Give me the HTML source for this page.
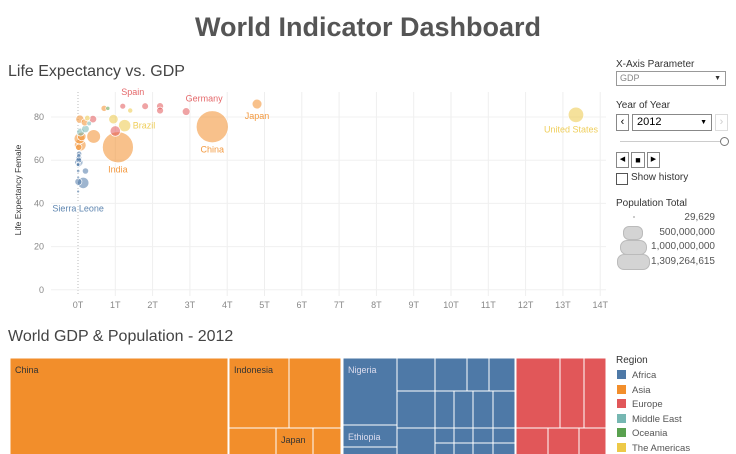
<!DOCTYPE html>
<html><head><meta charset="utf-8"><style>
body{margin:0;width:736px;height:454px;overflow:hidden;background:#fff;font-family:"Liberation Sans",sans-serif;position:relative}
.t{position:absolute;white-space:nowrap}
</style></head><body>
<div class="t" style="left:0;width:736px;text-align:center;top:12px;font-size:27px;font-weight:bold;color:#555">World Indicator Dashboard</div>
<div class="t" style="left:8px;top:63px;font-size:16px;color:#444">Life Expectancy vs. GDP</div>
<div class="t" style="left:8px;top:328px;font-size:16px;color:#444">World GDP &amp; Population - 2012</div>
<svg id="sc" width="736" height="454" style="position:absolute;left:0;top:0"></svg>

<div class="t" style="left:616px;top:59px;font-size:10px;color:#333">X-Axis Parameter</div>
<div class="t" style="left:616px;top:71px;width:110px;border:1px solid #999;font-size:9px;color:#888;padding-left:3px;box-sizing:border-box;height:15px;line-height:13px">GDP<span style="position:absolute;right:4px;color:#333;font-size:7px">▼</span></div>
<div class="t" style="left:616px;top:100px;font-size:10px;color:#333">Year of Year</div>
<div class="t" style="left:616px;top:114px;width:13px;height:17px;border:1px solid #888;box-sizing:border-box;font-size:11px;text-align:center;line-height:15px">‹</div>
<div class="t" style="left:632px;top:114px;width:80px;height:17px;border:1px solid #888;box-sizing:border-box;font-size:11px;padding-left:4px;line-height:15px">2012<span style="position:absolute;right:4px;font-size:7px">▼</span></div>
<div class="t" style="left:715px;top:114px;width:13px;height:17px;border:1px solid #ddd;box-sizing:border-box;font-size:11px;text-align:center;line-height:15px;color:#ccc">›</div>
<div class="t" style="left:620px;top:141px;width:102px;height:1px;background:#ccc"></div>
<div class="t" style="left:720px;top:137px;width:7px;height:7px;border:1px solid #777;border-radius:50%;background:#fff"></div>
<div class="t" style="left:616px;top:152px;width:13px;height:16px;border:1px solid #888;box-sizing:border-box;font-size:7px;text-align:center;line-height:14px">◀</div>
<div class="t" style="left:631px;top:152px;width:14px;height:16px;border:1px solid #888;box-sizing:border-box;font-size:9px;text-align:center;line-height:14px">■</div>
<div class="t" style="left:647px;top:152px;width:13px;height:16px;border:1px solid #888;box-sizing:border-box;font-size:7px;text-align:center;line-height:14px">▶</div>
<div class="t" style="left:616px;top:173px;width:10px;height:10px;border:1px solid #555"></div>
<div class="t" style="left:631px;top:172px;font-size:10px;color:#333">Show history</div>
<div class="t" style="left:616px;top:198px;font-size:10px;color:#333">Population Total</div>
<div>
<div class="t" style="left:633px;top:216px;width:2px;height:2px;background:#bbb;border-radius:50%"></div>
<div class="t" style="left:715px;top:212px;font-size:10px;color:#555;transform:translateX(-100%)">29,629</div>
<div class="t" style="left:623px;top:226px;width:18px;height:12px;background:#d4d4d4;border:1px solid #bbb;border-radius:6px"></div>
<div class="t" style="left:715px;top:227px;font-size:10px;color:#555;transform:translateX(-100%)">500,000,000</div>
<div class="t" style="left:620px;top:240px;width:25px;height:13px;background:#d4d4d4;border:1px solid #bbb;border-radius:7px"></div>
<div class="t" style="left:715px;top:241px;font-size:10px;color:#555;transform:translateX(-100%)">1,000,000,000</div>
<div class="t" style="left:617px;top:254px;width:31px;height:14px;background:#d4d4d4;border:1px solid #bbb;border-radius:7px"></div>
<div class="t" style="left:715px;top:256px;font-size:10px;color:#555;transform:translateX(-100%)">1,309,264,615</div>
</div>
<div class="t" style="left:616px;top:355px;font-size:10px;color:#333">Region</div>
<div id="rl"></div>
<script>
const countries=["China","India","Japan","Germany","Spain","Brazil","United States","Sierra Leone","Indonesia","Nigeria","Russia","UK","France","Italy","Mexico","Pakistan","Bangladesh","Ethiopia","Korea","Turkey","Iran","Egypt","Philippines","Vietnam","Thailand","Congo","S.Africa","Australia","Canada","Argentina","Kenya","Tanzania","Ghana","Uganda","Sudan","Saudi","Myanmar","Chad","Mali","Niger"];
const gdp=[3.6,1.07,4.8,2.9,1.2,1.25,13.35,0.004,0.42,0.14,1.0,2.2,2.2,1.8,0.95,0.06,0.04,0.02,0.7,0.4,0.2,0.07,0.1,0.05,0.18,0.01,0.2,0.8,1.4,0.25,0.02,0.02,0.02,0.01,0.03,0.3,0.02,0.005,0.005,0.003];
const lifeExp=[75.5,66,86,82.5,85,76,81,45.5,71,49.5,73.5,83,85,85,79,67,70,59,84,79,74.5,73,71,79,77.5,50,55,84,83,79.5,60,61,62,58,63,77,66,52,55,58];
const popM=[1351,1263,127,80,46,199,314,6,247,169,143,63,65,60,118,179,155,92,50,74,76,81,97,89,67,66,52,23,35,41,43,48,25,36,37,28,53,12,15,17];
const regionOf=["Asia","Asia","Asia","Europe","Europe","The Americas","The Americas","Africa","Asia","Africa","Europe","Europe","Europe","Europe","The Americas","Asia","Asia","Africa","Asia","Europe","Middle East","Middle East","Asia","Asia","Asia","Africa","Africa","Oceania","The Americas","The Americas","Africa","Africa","Africa","Africa","Africa","Middle East","Asia","Africa","Africa","Africa"];
const labeled=["China","India","Japan","Germany","Spain","Brazil","United States","Sierra Leone"];
const xTicks=[0,1,2,3,4,5,6,7,8,9,10,11,12,13,14];
const yTicks=[0,20,40,60,80];
const regions=["Africa","Asia","Europe","Middle East","Oceania","The Americas"];
const regionColors=["#4e79a7","#f28e2b","#e15759","#76b7b2","#59a14f","#edc948"];
const NS="http://www.w3.org/2000/svg";
const sv=document.getElementById('sc');
const X=v=>78+v*37.3, Y=v=>289.8-v*2.16;
function mk(t,a,p){const e=document.createElementNS(NS,t);for(const k in a)e.setAttribute(k,a[k]);(p||sv).appendChild(e);return e;}
const col=r=>regionColors[regions.indexOf(r)];
xTicks.forEach(t=>{const l=mk('line',{x1:X(t),x2:X(t),y1:92,y2:296,stroke:t===0?'#bbb':'#eee','stroke-dasharray':t===0?'1,2':''});
const tx=mk('text',{x:X(t),y:308,'text-anchor':'middle','font-size':9,fill:'#888'});tx.textContent=t+'T';});
yTicks.forEach(t=>{const l=mk('line',{x1:51,x2:606,y1:Y(t),y2:Y(t),stroke:'#f0f0f0'});
const tx=mk('text',{x:44,y:Y(t)+3,'text-anchor':'end','font-size':9,fill:'#888'});tx.textContent=t;});
const yt=mk('text',{x:0,y:0,transform:'translate(21,190) rotate(-90)','text-anchor':'middle','font-size':8.5,fill:'#333'});yt.textContent='Life Expectancy Female';


const order=countries.map((c,i)=>i).sort((a,b)=>popM[b]-popM[a]);
order.forEach(i=>{const r=Math.max(1.5,16*Math.sqrt(popM[i]/1351));
const c=mk('circle',{cx:X(gdp[i]),cy:Y(lifeExp[i]),r:r,fill:col(regionOf[i]),'fill-opacity':0.55,stroke:'#fff','stroke-width':0.7});


if(labeled.includes(countries[i])){let lx=X(gdp[i]),ly=Y(lifeExp[i])+r+10,anc='middle';
if(countries[i]==='Spain'){ly=Y(lifeExp[i])-r-8;lx+=10;}
if(countries[i]==='Germany'){ly=Y(lifeExp[i])-r-6;lx+=18;}
if(countries[i]==='Brazil'){lx=X(gdp[i])+r+2;ly=Y(lifeExp[i])+3;anc='start';}
if(countries[i]==='Sierra Leone'){lx=X(gdp[i]);ly=Y(lifeExp[i])+20;}
if(countries[i]==='United States'){ly=Y(lifeExp[i])+r+10;lx=X(gdp[i])-5;}
const t=mk('text',{x:lx,y:ly,'text-anchor':anc,'font-size':9,fill:col(regionOf[i]),'fill-opacity':0.9});t.textContent=countries[i];

}});
const tmCells=[
 ["Asia",[[0,0,218,100,"China"],[219,0,279,70,"Indonesia"],[279,0,331,70,""],[219,70,266,100,""],[266,70,303,100,"Japan"],[303,70,331,100,""]]],
 ["Africa",[[0,0,54,67,"Nigeria"],[54,0,92,33,""],[92,0,124,33,""],[124,0,146,33,""],[146,0,172,33,""],[54,33,92,70,""],[92,33,111,70,""],[111,33,130,70,""],[130,33,150,70,""],[150,33,172,70,""],[0,67,54,89,"Ethiopia"],[0,89,54,100,""],[54,70,92,100,""],[92,70,111,85,""],[111,70,130,85,""],[130,70,150,85,""],[150,70,172,85,""],[92,85,111,100,""],[111,85,130,100,""],[130,85,150,100,""],[150,85,172,100,""]]],
 ["Europe",[[0,0,44,70,""],[44,0,68,70,""],[68,0,90,70,""],[0,70,32,100,""],[32,70,63,100,""],[63,70,90,100,""]]]];
const regX={"Asia":10,"Africa":343,"Europe":516};
tmCells.forEach(([reg,cells])=>cells.forEach(c=>{const x0=regX[reg]+c[0],y0=358+c[1],w=c[2]-c[0],h=c[3]-c[1];
const r=mk('rect',{x:x0,y:y0,width:w,height:h,fill:col(reg),stroke:'#fff','stroke-width':1});


if(c[4]){const t=mk('text',{x:x0+5,y:y0+15,'font-size':9,fill:reg==="Africa"?'#dde':'#333'});t.textContent=c[4];

}}));
const rl=document.getElementById('rl');
regions.forEach((r,i)=>{const d=document.createElement('div');d.className='t';d.style.cssText=`left:617px;top:${370+i*14.6}px;font-size:9.5px;color:#555`;
d.innerHTML=`<span style="display:inline-block;width:9px;height:9px;background:${regionColors[i]};vertical-align:-1px;margin-right:6px"></span>${r}`;


rl.appendChild(d);});
</script>
</body></html>
